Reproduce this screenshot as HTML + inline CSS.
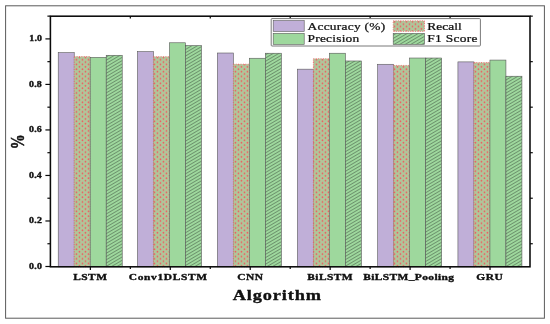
<!DOCTYPE html>
<html><head><meta charset="utf-8"><title>Algorithm comparison</title>
<style>
html,body{margin:0;padding:0;background:#fff;}
svg{display:block;}
text{font-family:"Liberation Serif",serif;fill:#111;}
.b{font-weight:bold;}
</style></head><body>
<svg width="550" height="324" viewBox="0 0 550 324">
<defs>
<pattern id="dots" patternUnits="userSpaceOnUse" x="74.95" y="1.67" width="6" height="4.74">
<rect width="6" height="4.74" fill="#B0C69A"/>
<circle cx="1.5" cy="1.2" r="0.85" fill="#F05A60"/><circle cx="4.5" cy="3.57" r="0.85" fill="#F05A60"/>
</pattern>
<pattern id="hatch" patternUnits="userSpaceOnUse" width="12" height="2.82" patternTransform="rotate(-30.5)">
<rect width="12" height="2.82" fill="#9ED89D"/>
<line x1="0" y1="1.41" x2="12" y2="1.41" stroke="#4e6a50" stroke-width="0.62"/>
</pattern>
</defs>
<rect width="550" height="324" fill="#fff"/>
<rect x="5.6" y="5.8" width="538.8" height="312.4" fill="none" stroke="#5a5a5a" stroke-width="1"/>

<rect x="58.22" y="52.67" width="16.0" height="214.13" fill="#C0AFD8" stroke="#585858" stroke-width="0.6"/>
<rect x="74.22" y="56.54" width="16.0" height="210.26" fill="url(#dots)" stroke="#F05A60" stroke-width="0.8" stroke-dasharray="0.9 1.5"/>
<rect x="90.22" y="57.34" width="16.0" height="209.46" fill="#9ED89D" stroke="#585858" stroke-width="0.6"/>
<rect x="106.22" y="55.29" width="16.0" height="211.51" fill="url(#hatch)" stroke="#585858" stroke-width="0.6"/>
<rect x="137.45" y="51.65" width="16.0" height="215.15" fill="#C0AFD8" stroke="#585858" stroke-width="0.6"/>
<rect x="153.45" y="56.65" width="16.0" height="210.15" fill="url(#dots)" stroke="#F05A60" stroke-width="0.8" stroke-dasharray="0.9 1.5"/>
<rect x="169.45" y="42.77" width="16.0" height="224.03" fill="#9ED89D" stroke="#585858" stroke-width="0.6"/>
<rect x="185.45" y="45.61" width="16.0" height="221.19" fill="url(#hatch)" stroke="#585858" stroke-width="0.6"/>
<rect x="217.38" y="53.01" width="16.0" height="213.79" fill="#C0AFD8" stroke="#585858" stroke-width="0.6"/>
<rect x="233.38" y="64.16" width="16.0" height="202.64" fill="url(#dots)" stroke="#F05A60" stroke-width="0.8" stroke-dasharray="0.9 1.5"/>
<rect x="249.38" y="58.25" width="16.0" height="208.55" fill="#9ED89D" stroke="#585858" stroke-width="0.6"/>
<rect x="265.38" y="53.24" width="16.0" height="213.56" fill="url(#hatch)" stroke="#585858" stroke-width="0.6"/>
<rect x="297.37" y="69.17" width="16.0" height="197.63" fill="#C0AFD8" stroke="#585858" stroke-width="0.6"/>
<rect x="313.37" y="58.70" width="16.0" height="208.10" fill="url(#dots)" stroke="#F05A60" stroke-width="0.8" stroke-dasharray="0.9 1.5"/>
<rect x="329.37" y="53.24" width="16.0" height="213.56" fill="#9ED89D" stroke="#585858" stroke-width="0.6"/>
<rect x="345.37" y="60.98" width="16.0" height="205.82" fill="url(#hatch)" stroke="#585858" stroke-width="0.6"/>
<rect x="377.65" y="64.28" width="16.0" height="202.52" fill="#C0AFD8" stroke="#585858" stroke-width="0.6"/>
<rect x="393.65" y="65.42" width="16.0" height="201.38" fill="url(#dots)" stroke="#F05A60" stroke-width="0.8" stroke-dasharray="0.9 1.5"/>
<rect x="409.65" y="58.02" width="16.0" height="208.78" fill="#9ED89D" stroke="#585858" stroke-width="0.6"/>
<rect x="425.65" y="58.02" width="16.0" height="208.78" fill="url(#hatch)" stroke="#585858" stroke-width="0.6"/>
<rect x="457.93" y="61.89" width="16.0" height="204.91" fill="#C0AFD8" stroke="#585858" stroke-width="0.6"/>
<rect x="473.93" y="62.57" width="16.0" height="204.23" fill="url(#dots)" stroke="#F05A60" stroke-width="0.8" stroke-dasharray="0.9 1.5"/>
<rect x="489.93" y="60.07" width="16.0" height="206.73" fill="#9ED89D" stroke="#585858" stroke-width="0.6"/>
<rect x="505.93" y="76.23" width="16.0" height="190.57" fill="url(#hatch)" stroke="#585858" stroke-width="0.6"/>
<g stroke="#0a0a0a" stroke-width="1.55" fill="none">
<rect x="50.4" y="16.2" width="479.6" height="250.60000000000002"/>
</g>
<g stroke="#0a0a0a" stroke-width="1.2" fill="none">
<line x1="45.4" y1="266.50" x2="50.4" y2="266.50"/>
<line x1="47.4" y1="243.74" x2="50.4" y2="243.74"/>
<line x1="530.0" y1="243.74" x2="532.8" y2="243.74"/>
<line x1="45.4" y1="220.98" x2="50.4" y2="220.98"/>
<line x1="47.4" y1="198.22" x2="50.4" y2="198.22"/>
<line x1="530.0" y1="198.22" x2="532.8" y2="198.22"/>
<line x1="45.4" y1="175.46" x2="50.4" y2="175.46"/>
<line x1="47.4" y1="152.70" x2="50.4" y2="152.70"/>
<line x1="530.0" y1="152.70" x2="532.8" y2="152.70"/>
<line x1="45.4" y1="129.94" x2="50.4" y2="129.94"/>
<line x1="47.4" y1="107.18" x2="50.4" y2="107.18"/>
<line x1="530.0" y1="107.18" x2="532.8" y2="107.18"/>
<line x1="45.4" y1="84.42" x2="50.4" y2="84.42"/>
<line x1="47.4" y1="61.66" x2="50.4" y2="61.66"/>
<line x1="530.0" y1="61.66" x2="532.8" y2="61.66"/>
<line x1="45.4" y1="38.90" x2="50.4" y2="38.90"/>
<line x1="47.4" y1="16.14" x2="50.4" y2="16.14"/>
<line x1="530.0" y1="16.14" x2="532.8" y2="16.14"/>
<line x1="90.37" y1="266.8" x2="90.37" y2="270.0"/>
<line x1="170.30" y1="266.8" x2="170.30" y2="270.0"/>
<line x1="250.23" y1="266.8" x2="250.23" y2="270.0"/>
<line x1="330.17" y1="266.8" x2="330.17" y2="270.0"/>
<line x1="410.10" y1="266.8" x2="410.10" y2="270.0"/>
<line x1="490.03" y1="266.8" x2="490.03" y2="270.0"/>
<line x1="130.33" y1="266.8" x2="130.33" y2="269.0"/>
<line x1="130.33" y1="16.2" x2="130.33" y2="18.4"/>
<line x1="210.27" y1="266.8" x2="210.27" y2="269.0"/>
<line x1="210.27" y1="16.2" x2="210.27" y2="18.4"/>
<line x1="290.20" y1="266.8" x2="290.20" y2="269.0"/>
<line x1="290.20" y1="16.2" x2="290.20" y2="18.4"/>
<line x1="370.13" y1="266.8" x2="370.13" y2="269.0"/>
<line x1="370.13" y1="16.2" x2="370.13" y2="18.4"/>
<line x1="450.07" y1="266.8" x2="450.07" y2="269.0"/>
<line x1="450.07" y1="16.2" x2="450.07" y2="18.4"/>
</g>
<rect x="271.2" y="18.6" width="209.2" height="27.4" rx="0.8" fill="#fff" stroke="#6a6a6a" stroke-width="0.9"/>
<rect x="273.2" y="20.6" width="31" height="10.8" fill="#C0AFD8" stroke="#585858" stroke-width="0.6"/>
<rect x="273.2" y="33.4" width="31" height="11" fill="#9ED89D" stroke="#585858" stroke-width="0.6"/>
<rect x="393.2" y="20.8" width="31.3" height="10.6" fill="url(#dots)" stroke="#F05A60" stroke-width="0.8" stroke-dasharray="0.9 1.5"/>
<rect x="393.2" y="33.4" width="31.3" height="11" fill="url(#hatch)" stroke="#585858" stroke-width="0.6"/>
<text class="b" transform="translate(29.00,268.70) scale(1.3,1)" font-size="7.6" textLength="10.00" lengthAdjust="spacing" stroke="#111" stroke-width="0.35">0.0</text>
<text class="b" transform="translate(29.00,223.18) scale(1.3,1)" font-size="7.6" textLength="10.00" lengthAdjust="spacing" stroke="#111" stroke-width="0.35">0.2</text>
<text class="b" transform="translate(29.00,177.66) scale(1.3,1)" font-size="7.6" textLength="9.81" lengthAdjust="spacing" stroke="#111" stroke-width="0.35">0.4</text>
<text class="b" transform="translate(29.00,132.14) scale(1.3,1)" font-size="7.6" textLength="9.81" lengthAdjust="spacing" stroke="#111" stroke-width="0.35">0.6</text>
<text class="b" transform="translate(29.00,86.62) scale(1.3,1)" font-size="7.6" textLength="9.81" lengthAdjust="spacing" stroke="#111" stroke-width="0.35">0.8</text>
<text class="b" transform="translate(29.25,41.10) scale(1.3,1)" font-size="7.6" textLength="9.81" lengthAdjust="spacing" stroke="#111" stroke-width="0.35">1.0</text>
<text class="b" transform="translate(73.25,279.70) scale(1.3,1)" font-size="8.8" textLength="25.96" lengthAdjust="spacing" stroke="#111" stroke-width="0.35">LSTM</text>
<text class="b" transform="translate(128.75,279.70) scale(1.3,1)" font-size="8.8" textLength="60.19" lengthAdjust="spacing" stroke="#111" stroke-width="0.35">Conv1DLSTM</text>
<text class="b" transform="translate(237.25,279.70) scale(1.3,1)" font-size="8.8" textLength="19.81" lengthAdjust="spacing" stroke="#111" stroke-width="0.35">CNN</text>
<text class="b" transform="translate(307.25,279.70) scale(1.3,1)" font-size="8.8" textLength="34.81" lengthAdjust="spacing" stroke="#111" stroke-width="0.35">BiLSTM</text>
<text class="b" transform="translate(363.25,279.70) scale(1.3,1)" font-size="8.8" textLength="69.81" lengthAdjust="spacing" stroke="#111" stroke-width="0.35">BiLSTM_Pooling</text>
<text class="b" transform="translate(476.25,279.70) scale(1.3,1)" font-size="8.8" textLength="20.38" lengthAdjust="spacing" stroke="#111" stroke-width="0.35">GRU</text>
<text class="b" transform="translate(232.75,300.30) scale(1.22,1)" font-size="15.0" textLength="72.34" lengthAdjust="spacing" stroke="#111" stroke-width="0.35">Algorithm</text>
<text transform="translate(307.50,30.10) scale(1.22,1)" font-size="11.0" textLength="63.73" lengthAdjust="spacing" stroke="#111" stroke-width="0.25">Accuracy (%)</text>
<text transform="translate(307.50,42.30) scale(1.22,1)" font-size="11.0" textLength="42.42" lengthAdjust="spacing" stroke="#111" stroke-width="0.25">Precision</text>
<text transform="translate(427.25,30.10) scale(1.22,1)" font-size="11.0" textLength="28.28" lengthAdjust="spacing" stroke="#111" stroke-width="0.25">Recall</text>
<text transform="translate(427.25,42.30) scale(1.22,1)" font-size="11.0" textLength="41.19" lengthAdjust="spacing" stroke="#111" stroke-width="0.25">F1 Score</text>
<text class="b" transform="translate(24.1,141.8) rotate(-90) scale(1,1.2)" font-size="15" text-anchor="middle" stroke="#111" stroke-width="0.4">%</text>
</svg>
</body></html>
